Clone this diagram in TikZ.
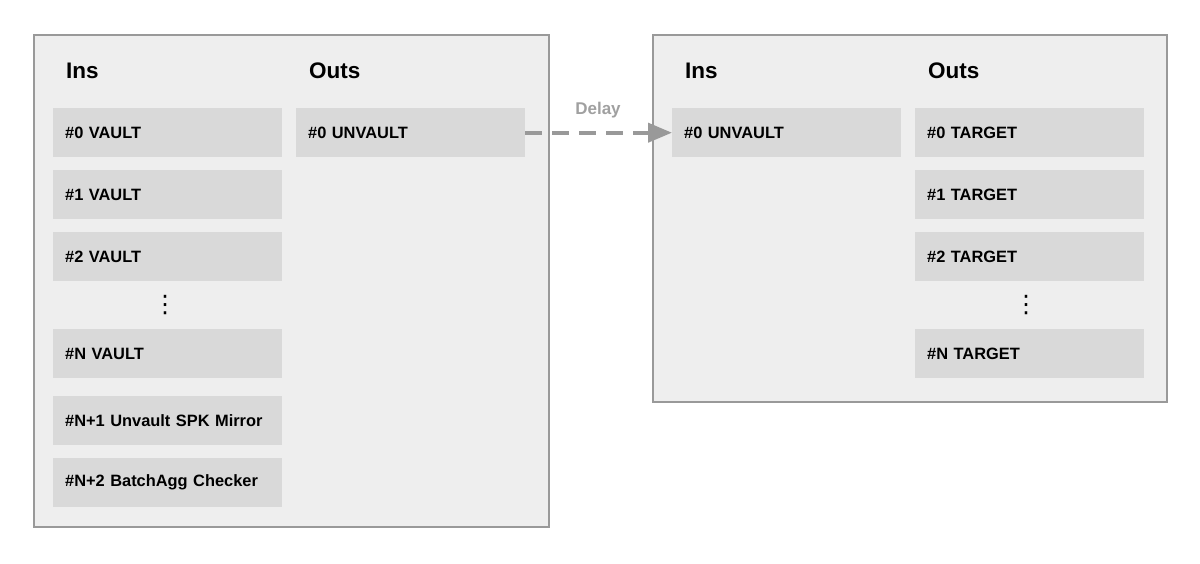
\documentclass[tikz,border=0pt]{standalone}
\usepackage{fontspec}
\setmainfont{Liberation Sans}
\newfontfamily\dotsfont{DejaVu Sans}
\usetikzlibrary{arrows.meta,positioning}
\definecolor{panelfill}{HTML}{EEEEEE}
\definecolor{panelline}{HTML}{999999}
\definecolor{slotfill}{HTML}{D9D9D9}
\definecolor{delaygray}{HTML}{A0A0A0}

\begin{document}
\begin{tikzpicture}
[x=1pt,y=-1pt,
panel/.style={draw=panelline,line width=2pt,fill=panelfill,anchor=north west,inner sep=0pt},
slot/.style={fill=slotfill,anchor=north west,minimum height=49pt,text width=205pt,
	inner xsep=12pt,inner ysep=0pt,align=left,font=\bfseries\fontsize{16.4}{18}\selectfont},
head/.style={anchor=base west,inner sep=0pt,font=\bfseries\fontsize{22.5}{26}\selectfont},
dots/.style={inner sep=0pt,font=\dotsfont\fontsize{24}{26}\selectfont}]

\useasboundingbox (0,0) rectangle (1200,563);

% panels
\node[panel,minimum width=515pt,minimum height=492pt] (lp) at (33,34) {};
\node[panel,minimum width=514pt,minimum height=367pt] (rp) at (652,34) {};

% headings
\node[head] (lins) at (66,78) {Ins};
\node[head] (louts) at (309,78) {Outs};
\node[head] (rins) at (685,78) {Ins};
\node[head] (routs) at (928,78) {Outs};

% left ins
\foreach \name/\y/\txt in {v0/108/{\#0 VAULT},v1/170/{\#1 VAULT},v2/232/{\#2 VAULT},
	vn/329/{\#N VAULT},spk/396/{\#N+1 Unvault SPK Mirror},agg/458/{\#N+2 BatchAgg Checker}}{
	\node[slot] (\name) at (53,\y) {\txt};
}
\node[dots] (ldots) at (165,305) {⋮};

% left outs
\node[slot] (uo) at (296,108) {\#0 UNVAULT};

% right ins
\node[slot] (ui) at (672,108) {\#0 UNVAULT};

% right outs
\foreach \name/\y/\txt in {t0/108/{\#0 TARGET},t1/170/{\#1 TARGET},t2/232/{\#2 TARGET},
	tn/329/{\#N TARGET}}{
	\node[slot] (\name) at (915,\y) {\txt};
}
\node[dots] (rdots) at (1026,305) {⋮};

% delay
\draw[panelline,line width=4pt,dash pattern=on 17pt off 10pt,
	-{Triangle[length=24pt,width=19pt]}] (uo.east) -- (ui.west);
\node[inner sep=0pt,text=delaygray,font=\bfseries\fontsize{17}{19}\selectfont] (delay) at (598,110) {Delay};
\end{tikzpicture}
\end{document}
